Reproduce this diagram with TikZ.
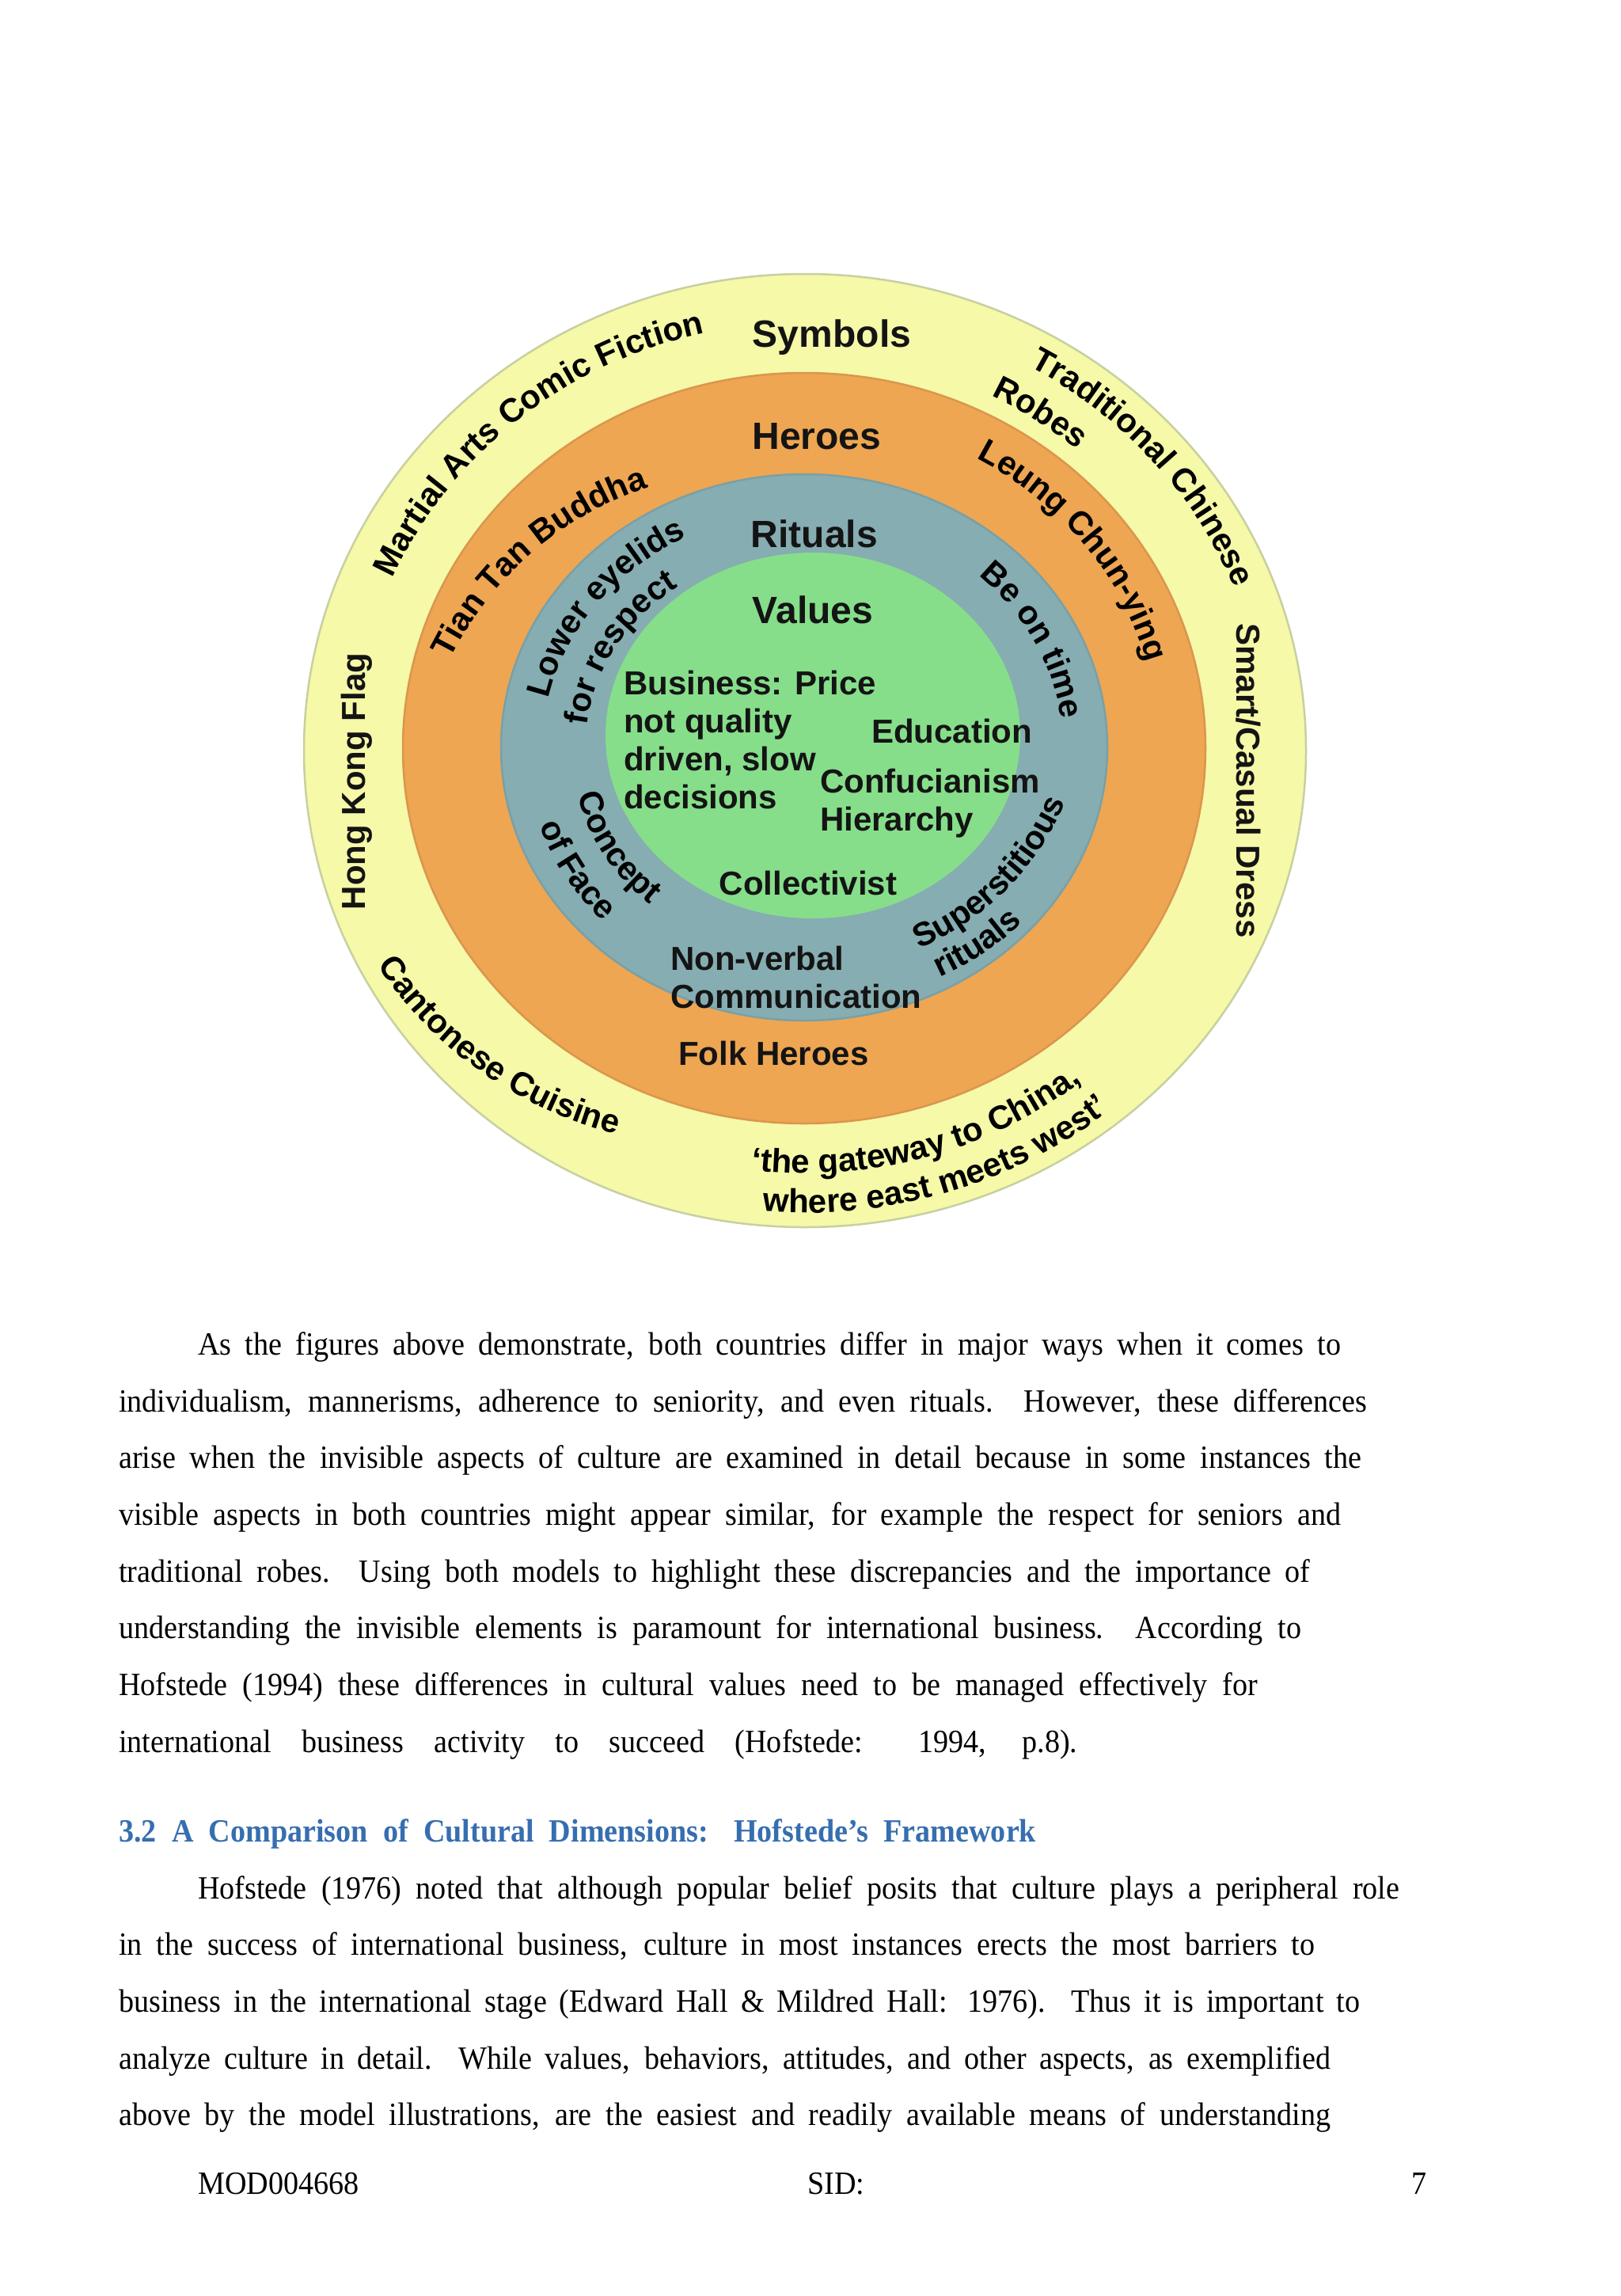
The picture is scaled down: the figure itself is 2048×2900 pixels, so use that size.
\documentclass[tikz,border=0pt]{standalone}
\usepackage{fontspec}
\setmainfont{Liberation Serif}
\newfontfamily\dsans{Liberation Sans}
\newfontfamily\bodyf{Liberation Serif}[FakeStretch=0.93]
\usetikzlibrary{decorations.text}
\definecolor{ylw}{RGB}{245,249,168}
\definecolor{ylwl}{RGB}{200,208,160}
\definecolor{org}{RGB}{238,166,82}
\definecolor{orgl}{RGB}{218,150,78}
\definecolor{blu}{RGB}{134,173,177}
\definecolor{blul}{RGB}{122,160,166}
\definecolor{grn}{RGB}{134,222,138}
\definecolor{hd}{RGB}{54,110,176}
\definecolor{ink}{RGB}{20,20,20}
\newcommand\lblf{\dsans\bfseries\fontsize{42}{48}\selectfont}
\newcommand\ttlf{\dsans\bfseries\fontsize{48}{56}\selectfont}
\newcommand\bodyfs{\bodyf\fontsize{41}{50}\selectfont}
% curved text on a circle: #1,#2 baseline middle, #3 polar angle of that point, #4 radius, #5 signed half span, #6 text
\newcommand\ctext[6]{%
  \path[shift={(#1,#2)}, shift={({#3+180}:#4pt)}, decorate,
    decoration={text along path, text align=center, text={|\lblf|#6}}]
    ({#3+(#5)}:#4pt) arc[start angle={#3+(#5)}, end angle={#3-(#5)}, radius=#4pt];}
\tikzset{
  lbl/.style={inner sep=0pt, font=\lblf, text=ink},
  lblw/.style={lbl, anchor=base west},
  ttl/.style={inner sep=0pt, font=\ttlf, text=ink, anchor=base},
  ln/.style={inner sep=0pt, anchor=base west, font=\bodyfs},
  ring/.style={line width=2.5pt},
}
\begin{document}
\begin{tikzpicture}[x=1pt,y=1pt]
\fill[white] (0,0) rectangle (2048,-2900);
\useasboundingbox (0,0) rectangle (2048,-2900);

% rings
\fill[ylw, draw=ylwl, ring] (1017,-948) ellipse [x radius=633pt, y radius=602pt];
\fill[org, draw=orgl, ring] (1016,-945) ellipse [x radius=507pt, y radius=474pt];
\fill[blu, draw=blul, ring] (1016,-944) ellipse [x radius=383pt, y radius=345pt];
\fill[grn] (1027,-929) ellipse [x radius=262pt, y radius=231pt];

% titles
\node[ttl] (sym) at (1051,-438) {Symbols};
\node[ttl] (her) at (1032,-567) {Heroes};
\node[ttl] (rit) at (1029,-691) {Rituals};
\node[ttl] (val) at (1027,-787) {Values};

% inner labels
\node[lblw] (bus1) at (788,-877) {Business: Price};
\node[lblw] (bus2) at (788,-925) {not quality};
\node[lblw] (bus3) at (788,-973) {driven, slow};
\node[lblw] (bus4) at (788,-1021) {decisions};
\node[lblw] (edu) at (1101,-938) {Education};
\node[lblw] (con) at (1036,-1001) {Confucianism};
\node[lblw] (hie) at (1036,-1049) {Hierarchy};
\node[lbl, anchor=base] (col) at (1021,-1130) {Collectivist};
\node[lblw] (nv1) at (847,-1225) {Non-verbal};
\node[lblw] (nv2) at (847,-1273) {Communication};
\node[lblw] (folk) at (857,-1345) {Folk Heroes};
\node[lbl, rotate=90] (hk) at (451,-987) {Hong Kong Flag};
\node[lbl, rotate=-90] (smart) at (1577,-986) {Smart/Casual Dress};

% curved labels, yellow ring
\begin{scope}[shift={(1017,-948)}]
\path[decorate, decoration={text along path, text align=center, text={|\lblf|Martial Arts Comic Fiction}}]
  (175:569pt and 541pt) arc[start angle=175, end angle=85, x radius=569pt, y radius=541pt];
\path[decorate, decoration={text along path, text align=left, text={|\lblf|Traditional Chinese}}]
  (61:584pt and 555pt) arc[start angle=61, end angle=-30, x radius=584pt, y radius=555pt];
\path[decorate, decoration={text along path, text align=left, text={|\lblf|Robes}}]
  (63.5:527pt and 501pt) arc[start angle=63.5, end angle=20, x radius=527pt, y radius=501pt];
\path[decorate, decoration={text along path, text align=left, text={|\lblf|‘the gateway to China,}}]
  (263:562pt and 534pt) arc[start angle=263, end angle=345, x radius=562pt, y radius=534pt];
\path[decorate, decoration={text along path, text align=left, text={|\lblf|where east meets west’}}]
  (265:614pt and 584pt) arc[start angle=265, end angle=345, x radius=614pt, y radius=584pt];
\end{scope}
\ctext{608}{-1354}{234.8}{520}{-40}{Cantonese Cuisine}

% curved labels, orange ring
\ctext{672}{-699}{131}{430}{40}{Tian Tan Buddha}
\begin{scope}[shift={(1016,-945)}]
\path[decorate, decoration={text along path, text align=center, text={|\lblf|Leung Chun-ying}}]
  (77:448pt and 419pt) arc[start angle=77, end angle=-2, x radius=448pt, y radius=419pt];
\end{scope}

% curved labels, blue ring
\begin{scope}[shift={(1016,-944)}]
\path[decorate, decoration={text along path, text align=center, text={|\lblf|Lower eyelids}}]
  (183:330pt and 297pt) arc[start angle=183, end angle=103, x radius=330pt, y radius=297pt];
\path[decorate, decoration={text along path, text align=center, text={|\lblf|for respect}}]
  (190:276pt and 248pt) arc[start angle=190, end angle=110, x radius=276pt, y radius=248pt];
\path[decorate, decoration={text along path, text align=center, text={|\lblf|Be on time}}]
  (66.5:327pt and 294pt) arc[start angle=66.5, end angle=-13.5, x radius=327pt, y radius=294pt];
\path[decorate, decoration={text along path, text align=center, text={|\lblf|Concept}}]
  (170:294pt and 265pt) arc[start angle=170, end angle=250, x radius=294pt, y radius=265pt];
\path[decorate, decoration={text along path, text align=center, text={|\lblf|of Face}}]
  (170:352pt and 317pt) arc[start angle=170, end angle=250, x radius=352pt, y radius=317pt];
\end{scope}
\begin{scope}[shift={(1028,-880)}]
\path[decorate, decoration={text along path, text align=center, text={|\lblf|Superstitious}}]
  (275:345pt) arc[start angle=275, end angle=355, radius=345pt];
\path[decorate, decoration={text along path, text align=center, text={|\lblf|rituals}}]
  (268:389pt) arc[start angle=268, end angle=339, radius=389pt];
\end{scope}

% body text
\node[ln] (p1a) at (250,-1711) {\makebox[1444pt][s]{As the figures above demonstrate, both countries differ in major ways when it comes to}};
\node[ln] (p1b) at (150,-1783) {\makebox[1577pt][s]{individualism, mannerisms, adherence to seniority, and even rituals. However, these differences}};
\node[ln] (p1c) at (150,-1854) {\makebox[1570pt][s]{arise when the invisible aspects of culture are examined in detail because in some instances the}};
\node[ln] (p1d) at (150,-1926) {\makebox[1544pt][s]{visible aspects in both countries might appear similar, for example the respect for seniors and}};
\node[ln] (p1e) at (150,-1998) {\makebox[1505pt][s]{traditional robes. Using both models to highlight these discrepancies and the importance of}};
\node[ln] (p1f) at (150,-2069) {\makebox[1494pt][s]{understanding the invisible elements is paramount for international business. According to}};
\node[ln] (p1g) at (150,-2141) {\makebox[1439pt][s]{Hofstede (1994) these differences in cultural values need to be managed effectively for}};
\node[ln] (p1h) at (150,-2213) {\makebox[1211pt][s]{international business activity to succeed (Hofstede: 1994, p.8).}};

\node[ln, text=hd] (head) at (150,-2326) {\bfseries\makebox[1159pt][s]{3.2 A Comparison of Cultural Dimensions: Hofstede’s Framework}};

\node[ln] (p2a) at (250,-2398) {\makebox[1518pt][s]{Hofstede (1976) noted that although popular belief posits that culture plays a peripheral role}};
\node[ln] (p2b) at (150,-2469) {\makebox[1511pt][s]{in the success of international business, culture in most instances erects the most barriers to}};
\node[ln] (p2c) at (150,-2541) {\makebox[1568pt][s]{business in the international stage (Edward Hall \& Mildred Hall: 1976). Thus it is important to}};
\node[ln] (p2d) at (150,-2613) {\makebox[1531pt][s]{analyze culture in detail. While values, behaviors, attitudes, and other aspects, as exemplified}};
\node[ln] (p2e) at (150,-2684) {\makebox[1531pt][s]{above by the model illustrations, are the easiest and readily available means of understanding}};

% footer
\node[ln] (f1) at (250,-2771) {MOD004668};
\node[ln] (f2) at (1020,-2771) {SID:};
\node[ln] (f3) at (1783,-2771) {7};
\end{tikzpicture}
\end{document}
